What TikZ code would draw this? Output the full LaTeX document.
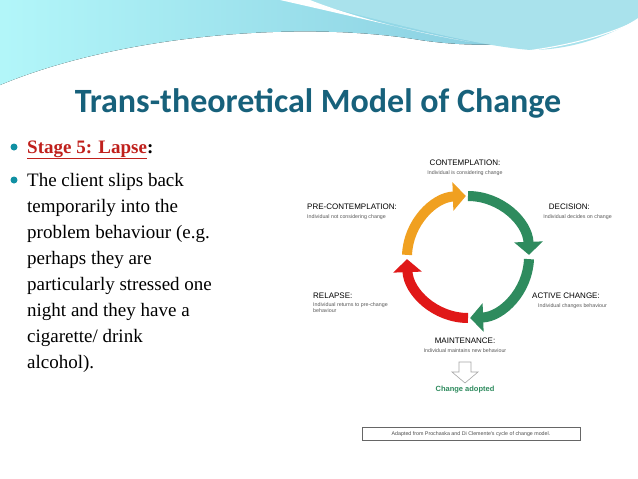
\documentclass[tikz,border=0pt]{standalone}
\usepackage{fontspec}
\setmainfont{Liberation Serif}
\newfontfamily\titlefont{Carlito}
\newfontfamily\sansf{Liberation Sans}
\usetikzlibrary{arrows.meta}
\definecolor{teal1}{HTML}{17617B}
\definecolor{wave1}{HTML}{7FC4DA}
\definecolor{wave2}{HTML}{A9E2EC}
\definecolor{orangeA}{HTML}{F0A020}
\definecolor{greenA}{HTML}{2E8B5E}
\definecolor{redA}{HTML}{E01818}
\definecolor{redT}{HTML}{C0201C}
\tikzset{x=1pt,y=-1pt,
 body/.style={anchor=base west,font=\fontsize{19}{19}\selectfont,inner sep=0},
 bul/.style={circle,fill=teal1!70!cyan,inner sep=0,minimum size=7pt},
 head/.style={font=\sansf\fontsize{8}{8}\selectfont,inner sep=0},
 sub/.style={font=\sansf\fontsize{5.3}{6.5}\selectfont,text=black!65,inner sep=0},
 arcline/.style={line width=10pt,-{Triangle[length=13pt,width=28pt]}}}
\begin{document}
\begin{tikzpicture}
\useasboundingbox (0,0) rectangle (638,479);
\fill[white] (0,0) rectangle (638,479);
% waves
\fill[left color=wave2!60!cyan!50,right color=wave1] (0,0) -- (0,85) .. controls (120,35) and (300,20) .. (420,40) .. controls (520,55) and (600,30) .. (638,15) -- (638,0) -- cycle;
\fill[wave2] (300,0) .. controls (380,20) and (470,45) .. (530,50) .. controls (580,50) and (620,30) .. (638,18) -- (638,0) -- cycle;
\fill[white] (280,0) .. controls (360,18) and (430,35) .. (470,42) .. controls (400,30) and (340,12) .. (310,0) -- cycle;
\draw[white,line width=1pt] (0,88) .. controls (120,40) and (300,28) .. (440,55) .. controls (540,58) and (610,35) .. (638,20);
% title
\node[font=\titlefont\bfseries\fontsize{34}{34}\selectfont,text=teal1] (title) at (318,103) {Trans-theoretical Model of Change};
% bullets
\node[bul] (b1) at (14,147) {};
\node[body,text=redT] (s5) at (27,153) {\bfseries\underline{Stage 5: Lapse}\textcolor{black}{:}};
\node[bul] (b2) at (14,180) {};
\node[body] (l1) at (27,186) {The client slips back};
\node[body] (l2) at (27,212) {temporarily into the};
\node[body] (l3) at (27,238) {problem behaviour (e.g.};
\node[body] (l4) at (27,264) {perhaps they are};
\node[body] (l5) at (27,290) {particularly stressed one};
\node[body] (l6) at (27,316) {night and they have a};
\node[body] (l7) at (27,342) {cigarette/ drink};
\node[body] (l8) at (27,368) {alcohol).};
% cycle
\coordinate (c) at (468,257);
\draw[arcline,orangeA] (c) ++(182:61) arc[start angle=182,end angle=268,radius=61];
\draw[arcline,greenA] (c) ++(270:61) arc[start angle=270,end angle=358,radius=61];
\draw[arcline,greenA] (c) ++(2:61) arc[start angle=2,end angle=88,radius=61];
\draw[arcline,redA] (c) ++(90:61) arc[start angle=90,end angle=178,radius=61];
% labels
\node[head] (ct) at (465,163) {CONTEMPLATION:};
\node[sub] (cts) at (465,173) {Individual is considering change};
\node[head,anchor=west] (pc) at (307,207) {PRE-CONTEMPLATION:};
\node[sub,anchor=west] (pcs) at (307,217) {Individual not considering change};
\node[head,anchor=east] (de) at (590,207) {DECISION:};
\node[sub,anchor=east] (des) at (612,217) {Individual decides on change};
\node[head,anchor=west] (re) at (313,296) {RELAPSE:};
\node[sub,anchor=north west,align=left] (res) at (313,302) {Individual returns to pre-change\\behaviour};
\node[head,anchor=east] (ac) at (600,296) {ACTIVE CHANGE:};
\node[sub,anchor=east] (acs) at (607,306) {Individual changes behaviour};
\node[head] (ma) at (465,341) {MAINTENANCE:};
\node[sub] (mas) at (465,351) {Individual maintains new behaviour};
\coordinate (ht) at (465,383);
\draw[black!35,fill=white,line width=0.6pt] (459,362) -- (471,362) -- (471,372) -- (478,372) -- (ht) -- (452,372) -- (459,372) -- cycle;
\node[font=\sansf\bfseries\fontsize{7.5}{7.5}\selectfont,text=greenA] (ca) at (465,390) {Change adopted};
\node[draw=black!60,line width=0.4pt,font=\sansf\fontsize{5.3}{5.3}\selectfont,text=black!70,minimum width=218pt,minimum height=13pt,inner sep=1pt] (src) at (471,434) {Adapted from Prochaska and Di Clemente's cycle of change model.};
\end{tikzpicture}
\end{document}
